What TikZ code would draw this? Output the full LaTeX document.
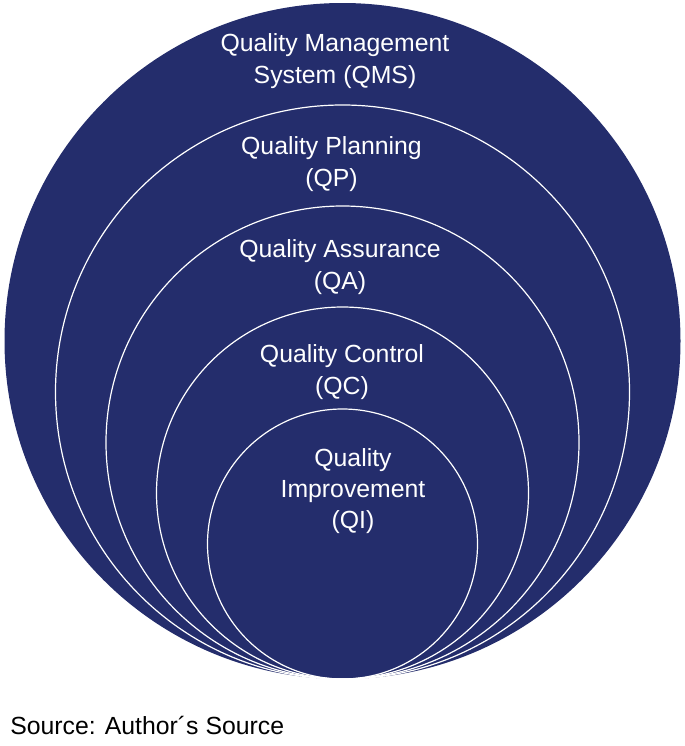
\documentclass[tikz,border=0pt]{standalone}
\usepackage{fontspec}
\setmainfont{Liberation Sans}
\definecolor{navy}{RGB}{36,45,108}
\begin{document}
\begin{tikzpicture}[x=0.75pt,y=-0.75pt,
  ring/.style={draw=white,line width=0.9pt},
  lbl/.style={text=white,align=center,font=\fontsize{18.6}{23.5}\selectfont,inner sep=0pt},
  src/.style={text=black,font=\fontsize{18.6}{23.5}\selectfont,inner sep=0pt,anchor=base west}]
\useasboundingbox (0,0) rectangle (685,746);
\fill[navy] (342.5,341) circle[radius=338];
\draw[ring] (342.5,392) circle[radius=287];
\draw[ring] (342.5,442.5) circle[radius=236.5];
\draw[ring] (342.5,493) circle[radius=186];
\draw[ring] (342.5,544) circle[radius=135];
\node[lbl] (qms) at (335,61) {Quality Management\\System (QMS)};
\node[lbl] (qp) at (331.5,164) {Quality Planning\\(QP)};
\node[lbl] (qa) at (340,267) {Quality Assurance\\(QA)};
\node[lbl] (qc) at (342,372) {Quality Control\\(QC)};
\node[lbl] (qi) at (353,491) {Quality\\Improvement\\(QI)};
\node[src] (source) at (10,734) {Source: Author´s Source};
\end{tikzpicture}
\end{document}
